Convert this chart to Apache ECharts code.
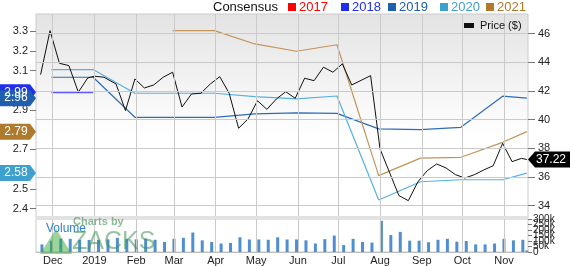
<!DOCTYPE html>
<html><head><meta charset="utf-8">
<script src="https://cdn.jsdelivr.net/npm/echarts@6/dist/echarts.min.js"></script>
<style>html,body{margin:0;padding:0;background:#fff}#c{width:570px;height:266px}</style>
</head><body><div id="c"></div>
<script>
// ---------- DATA ----------
const monthStarts = ['2018-12-01','2019-01-01','2019-02-01','2019-03-01','2019-04-01','2019-05-01','2019-06-01','2019-07-01','2019-08-01','2019-09-01','2019-10-01','2019-11-01'];
const monthLabels = ['Dec','2019','Feb','Mar','Apr','May','Jun','Jul','Aug','Sep','Oct','Nov'];

const priceDates = ['2018-11-22','2018-11-29','2018-12-06','2018-12-13','2018-12-20','2018-12-27','2019-01-01','2019-01-08','2019-01-17','2019-01-24','2019-01-31','2019-02-07','2019-02-14','2019-02-21','2019-02-28','2019-03-07','2019-03-14','2019-03-21','2019-03-28','2019-04-04','2019-04-11','2019-04-18','2019-04-25','2019-05-02','2019-05-09','2019-05-16','2019-05-23','2019-05-30','2019-06-06','2019-06-13','2019-06-20','2019-06-27','2019-07-04','2019-07-11','2019-07-25','2019-08-01','2019-08-15','2019-08-22','2019-08-29','2019-09-05','2019-09-12','2019-09-19','2019-09-26','2019-10-03','2019-10-10','2019-10-17','2019-10-24','2019-10-31','2019-11-07','2019-11-14','2019-11-18'];
const priceValues = [43.14,46.21,43.93,43.77,41.91,42.91,43.03,42.96,42.49,40.63,42.84,42.21,42.42,42.96,43.31,40.88,41.79,41.84,42.49,43.0,41.84,39.40,40.05,41.32,40.72,41.44,41.95,41.49,42.89,42.72,43.66,43.31,43.89,42.42,43.07,37.95,34.70,34.35,35.65,36.44,36.91,36.63,36.16,35.93,36.16,36.49,36.79,38.35,37.07,37.30,37.22];

const cons2018Dates = ['2018-11-30','2018-12-31'];
const cons2018Values = [2.99,2.99];
const consDates = ['2018-11-30','2018-12-31','2019-01-31','2019-02-28','2019-03-31','2019-04-30','2019-05-31','2019-06-30','2019-07-31','2019-08-31','2019-09-30','2019-10-31','2019-11-18'];
const cons2019Values = [3.066,3.066,2.863,2.863,2.863,2.880,2.885,2.883,2.804,2.800,2.812,2.970,2.96];
const cons2020Values = [3.105,3.105,2.985,2.985,2.985,2.968,2.956,2.971,2.443,2.536,2.546,2.546,2.58];
const cons2021Dates = ['2019-02-28','2019-03-31','2019-04-30','2019-05-31','2019-06-30','2019-07-31','2019-08-31','2019-09-30','2019-10-31','2019-11-18'];
const cons2021Values = [3.303,3.303,3.235,3.198,3.231,2.567,2.656,2.660,2.736,2.79];

const volumeDates = ['2018-11-23','2018-11-30','2018-12-07','2018-12-14','2018-12-21','2018-12-28','2019-01-04','2019-01-11','2019-01-18','2019-01-25','2019-02-01','2019-02-08','2019-02-15','2019-02-22','2019-03-01','2019-03-08','2019-03-15','2019-03-22','2019-03-29','2019-04-05','2019-04-12','2019-04-19','2019-04-26','2019-05-03','2019-05-10','2019-05-17','2019-05-24','2019-05-31','2019-06-07','2019-06-14','2019-06-21','2019-06-28','2019-07-05','2019-07-12','2019-07-19','2019-07-26','2019-08-02','2019-08-09','2019-08-16','2019-08-23','2019-08-30','2019-09-06','2019-09-13','2019-09-20','2019-09-27','2019-10-04','2019-10-11','2019-10-18','2019-10-25','2019-11-01','2019-11-08','2019-11-15','2019-11-18'];
const volumeValues = [69000,103000,120000,120000,110000,110000,111000,115000,129000,120000,115000,120000,111000,91000,120000,129000,177000,106000,91000,77000,83000,134000,114000,114000,111000,134000,114000,114000,106000,77000,117000,149000,63000,120000,91000,86000,283000,154000,183000,103000,103000,89000,111000,120000,94000,100000,69000,69000,77000,120000,106000,111000,14000];

const leftTicks = [2.4,2.5,2.7,2.9,3.1,3.2,3.3];
const rightTicks = [34,36,38,40,42,44,46];
const volTicks = [0,50000,100000,150000,200000,250000,300000];
const volTickLabels = ['0','50k','100k','150k','200k','250k','300k'];
const legendYears = ['2017','2018','2019','2020','2021'];

// ---------- STYLE ----------
const FONT = 'Liberation Sans, Arial, sans-serif';
const yearColors = {'2017':'#ff0000','2018':'#1f2fee','2019':'#1f5fae','2020':'#3ea0cf','2021':'#b07a2c'};
const lineColors = {'2018':'#5a5aff','2019':'#2e6cb8','2020':'#55b2e0','2021':'#c29458'};
const GRID = '#cacaca';

const ts = d => +new Date(d.length > 10 ? d : d + 'T00:00:00');
const xMin = ts('2018-11-18T14:00:00'), xMax = ts('2019-11-18T20:00:00');
const monthTs = monthStarts.map(ts);
const zip = (d, v) => d.map((x, i) => [ts(x), v[i]]);

const chart = echarts.init(document.getElementById('c'), null, {renderer: 'canvas'});

const option = {
  animation: false,
  backgroundColor: '#ffffff',
  textStyle: {fontFamily: FONT},
  grid: [
    {left: 36, right: 42, top: 14, height: 204, show: true, borderColor: GRID, borderWidth: 1,
     backgroundColor: new echarts.graphic.LinearGradient(0, 0, 0, 1, [{offset: 0, color: '#e3e3e3'}, {offset: 0.6, color: '#ffffff'}, {offset: 1, color: '#ffffff'}])},
    {left: 36, right: 42, top: 219, height: 35, show: true, borderColor: GRID, borderWidth: 1, backgroundColor: '#ffffff'}
  ],
  xAxis: [
    {type: 'value', gridIndex: 0, min: xMin, max: xMax, axisLabel: {show: false}, axisTick: {show: false}, axisLine: {show: false}, splitLine: {show: false}},
    {type: 'value', gridIndex: 1, min: xMin, max: xMax,
     axisLine: {show: true, onZero: false, lineStyle: {color: '#bdbdbd'}}, axisTick: {show: false}, splitLine: {show: false},
     axisLabel: {customValues: monthTs, color: '#222', fontSize: 11, margin: 3, fontFamily: FONT,
       formatter: v => { const i = monthTs.indexOf(v); return i >= 0 ? monthLabels[i] : ''; }}}
  ],
  yAxis: [
    {type: 'value', gridIndex: 0, position: 'left', min: 2.352, max: 3.387,
     axisLine: {show: false}, splitLine: {show: false},
     axisTick: {show: true, customValues: leftTicks, length: 6, lineStyle: {color: '#777'}},
     axisLabel: {customValues: leftTicks, color: '#222', fontSize: 11, margin: 8, fontFamily: FONT, formatter: v => v.toFixed(1)}},
    {type: 'value', gridIndex: 0, position: 'right', min: 33.14, max: 47.37,
     axisLine: {show: false}, splitLine: {show: false},
     axisTick: {show: true, customValues: rightTicks, length: 7, lineStyle: {color: '#777'}},
     axisLabel: {customValues: rightTicks, color: '#222', fontSize: 11, margin: 10, fontFamily: FONT}},
    {type: 'value', gridIndex: 1, position: 'right', min: 0, max: 300000,
     axisLine: {show: false}, splitLine: {show: false},
     axisTick: {show: true, customValues: volTicks, length: 4, lineStyle: {color: '#777'}},
     axisLabel: {show: false}}
  ],
  series: [
    {name: 'gridlines', type: 'line', xAxisIndex: 0, yAxisIndex: 1, data: [], z: 1, silent: true,
     markLine: {silent: true, symbol: ['none', 'none'], label: {show: false}, animation: false,
       lineStyle: {color: GRID, width: 1, type: 'solid'},
       data: rightTicks.map(v => ({yAxis: v})).concat(monthTs.map(t => ({xAxis: t})))}},
    {name: 'gridlines2', type: 'line', xAxisIndex: 1, yAxisIndex: 2, data: [], z: 1, silent: true,
     markLine: {silent: true, symbol: ['none', 'none'], label: {show: false}, animation: false,
       lineStyle: {color: GRID, width: 1, type: 'solid'},
       data: monthTs.map(t => ({xAxis: t}))}},
    {name: '2018', type: 'line', xAxisIndex: 0, yAxisIndex: 0, data: zip(cons2018Dates, cons2018Values), showSymbol: false, z: 3,
     lineStyle: {color: lineColors['2018'], width: 2}},
    {name: '2019', type: 'line', xAxisIndex: 0, yAxisIndex: 0, data: zip(consDates, cons2019Values), showSymbol: false, z: 3,
     lineStyle: {color: lineColors['2019'], width: 1.2}},
    {name: '2020', type: 'line', xAxisIndex: 0, yAxisIndex: 0, data: zip(consDates, cons2020Values), showSymbol: false, z: 3,
     lineStyle: {color: lineColors['2020'], width: 1.2}},
    {name: '2021', type: 'line', xAxisIndex: 0, yAxisIndex: 0, data: zip(cons2021Dates, cons2021Values), showSymbol: false, z: 3,
     lineStyle: {color: lineColors['2021'], width: 1.2}},
    {name: 'Price ($)', type: 'line', xAxisIndex: 0, yAxisIndex: 1, data: zip(priceDates, priceValues), showSymbol: false, z: 4,
     lineStyle: {color: '#111', width: 1}},
    {name: 'Volume', type: 'bar', xAxisIndex: 1, yAxisIndex: 2, data: zip(volumeDates, volumeValues), barWidth: 3, z: 3,
     itemStyle: {color: '#4f8fcf'}}
  ]
};
chart.setOption(option);

// ---------- annotations (tags, legend, watermark, volume axis labels) ----------
const g = [];
g.push({type: 'rect', shape: {x: 36, y: 216, width: 492, height: 3}, style: {fill: '#e2e2e2'}, z: 50});

g.push({type: 'text', x: 213, y: 7, style: {text: 'Consensus', font: '13px ' + FONT, fill: '#111', verticalAlign: 'middle'}, z: 60});
const legX = [288, 341, 388, 440, 486];
legendYears.forEach((yr, i) => {
  g.push({type: 'rect', shape: {x: legX[i], y: 3, width: 8, height: 8}, style: {fill: yearColors[yr]}, z: 60});
  g.push({type: 'text', x: legX[i] + 11, y: 7, style: {text: yr, font: '13px ' + FONT, fill: yearColors[yr], verticalAlign: 'middle'}, z: 60});
});
g.push({type: 'rect', shape: {x: 464, y: 23, width: 10, height: 5}, style: {fill: '#111'}, z: 60});
g.push({type: 'text', x: 480, y: 26, style: {text: 'Price ($)', font: '11px ' + FONT, fill: '#111', verticalAlign: 'middle'}, z: 60});

// volume axis labels (drawn overlapping as in the original)
volTicks.forEach((v, i) => {
  const y = chart.convertToPixel({yAxisIndex: 2}, v);
  g.push({type: 'text', x: 533, y: y, style: {text: volTickLabels[i], font: '10px ' + FONT, fill: '#222', verticalAlign: 'middle'}, z: 60});
});

const tagDefs = [
  {v: cons2018Values[cons2018Values.length - 1], c: yearColors['2018']},
  {v: cons2019Values[cons2019Values.length - 1], c: yearColors['2019']},
  {v: cons2021Values[cons2021Values.length - 1], c: yearColors['2021']},
  {v: cons2020Values[cons2020Values.length - 1], c: yearColors['2020']}
];
tagDefs.forEach(t => {
  const y = chart.convertToPixel({yAxisIndex: 0}, t.v);
  g.push({type: 'polygon', shape: {points: [[0, y - 8], [30, y - 8], [36, y], [30, y + 8], [0, y + 8]]}, style: {fill: t.c}, z: 70});
  g.push({type: 'text', x: 16, y: y, style: {text: t.v.toFixed(2), font: '12px ' + FONT, fill: '#fff', align: 'center', verticalAlign: 'middle'}, z: 71});
});
const lastPrice = priceValues[priceValues.length - 1];
const py = chart.convertToPixel({yAxisIndex: 1}, lastPrice);
g.push({type: 'polygon', shape: {points: [[528, py], [535, py - 8], [570, py - 8], [570, py + 8], [535, py + 8]]}, style: {fill: '#000'}, z: 70});
g.push({type: 'text', x: 551, y: py, style: {text: lastPrice.toFixed(2), font: '12px ' + FONT, fill: '#fff', align: 'center', verticalAlign: 'middle'}, z: 71});

g.push({type: 'text', x: 46, y: 229, style: {text: 'Volume', font: '12px ' + FONT, fill: '#2f7fd0', verticalAlign: 'middle'}, z: 60});
g.push({type: 'polygon', shape: {points: [[40, 254], [56, 229], [72, 254]]}, style: {fill: 'rgba(60,170,60,0.5)'}, z: 59});
g.push({type: 'text', x: 73, y: 222, style: {text: 'Charts by', font: 'bold 11px ' + FONT, fill: 'rgba(60,140,80,0.6)', verticalAlign: 'middle'}, z: 59});
g.push({type: 'text', x: 72, y: 242, style: {text: 'ZACKS', font: '25px ' + FONT, fill: 'rgba(60,150,80,0.55)', verticalAlign: 'middle'}, z: 59});

chart.setOption({graphic: {elements: g}});
</script></body></html>
